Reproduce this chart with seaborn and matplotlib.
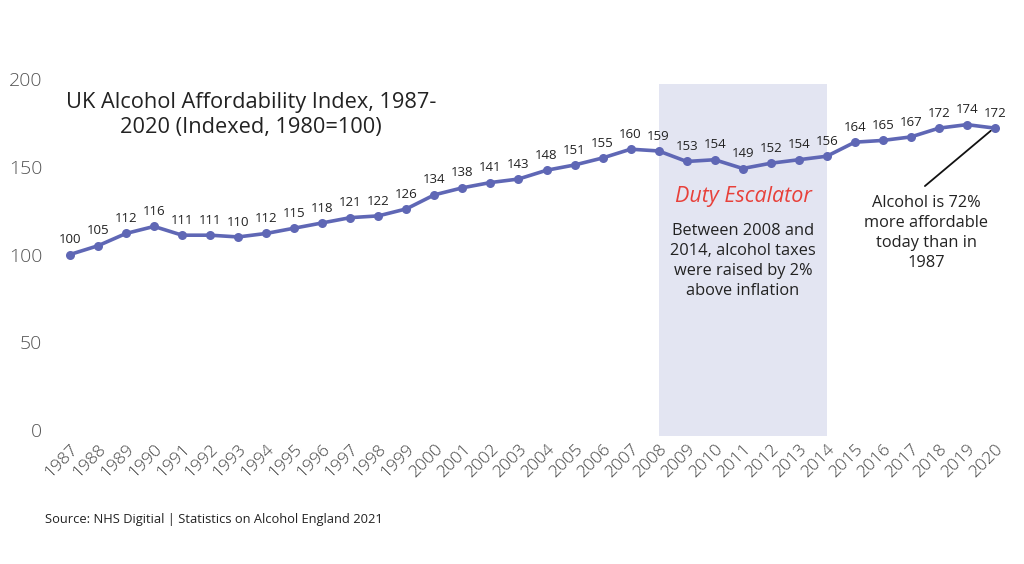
import matplotlib.pyplot as plt
import numpy as np
import pandas as pd
import seaborn as sns
from matplotlib.patches import Rectangle

years = list(range(1987, 2021))
index_values = [100, 105, 112, 116, 111, 111, 110, 112, 115, 118, 121, 122, 126,
                134, 138, 141, 143, 148, 151, 155, 160, 159, 153, 154, 149, 152,
                154, 156, 164, 165, 167, 172, 174, 172]
y_ticks = [0, 50, 100, 150, 200]

df = pd.DataFrame({'Year': years, 'Index': index_values})

sns.set_theme(style='white')
plt.rcParams['font.family'] = ['Open Sans', 'DejaVu Sans']

line_color = '#5f67b5'

fig = plt.figure(figsize=(10.24, 5.64), dpi=100)
ax = fig.add_axes([56 / 1024, 134 / 564, 953 / 1024, 351 / 564])

# duty escalator period
ax.add_patch(Rectangle((2008, -3.4), 6, 200.4, facecolor='#e3e5f2',
                       edgecolor='none', clip_on=False, zorder=0))

sns.lineplot(data=df, x='Year', y='Index', ax=ax, color=line_color, linewidth=2.6,
             marker='o', markersize=6.5, markeredgewidth=0, zorder=3)
for c in ax.collections + ax.lines:
    c.set_clip_on(False)

for yr, v in zip(years, index_values):
    ax.annotate(str(v), (yr, v), xytext=(0, 6), textcoords='offset points',
                ha='center', va='bottom', fontsize=9.5, color='#222222')

ax.set_xlim(1986.5, 2020.5)
ax.set_ylim(0, 200)
ax.set_xticks(years)
ax.set_xticklabels([str(y) for y in years], rotation=45, ha='right',
                   rotation_mode='anchor', fontsize=12.5, color='#444444',
                   fontweight='light')
ax.set_yticks(y_ticks)
ax.set_yticklabels([str(t) for t in y_ticks], fontsize=14, color='#555555',
                   fontweight='light')
ax.tick_params(axis='y', pad=10, length=0)
ax.tick_params(axis='x', pad=8, length=0)
ax.set_xlabel('')
ax.set_ylabel('')
sns.despine(ax=ax, left=True, bottom=True)
ax.grid(False)

fig.text(251 / 1024, 1 - 115 / 564, 'UK Alcohol Affordability Index, 1987-\n2020 (Indexed, 1980=100)',
         ha='center', va='center', fontsize=15.7, color='#222222', linespacing=1.3)

fig.text(743 / 1024, 1 - 197 / 564, 'Duty Escalator', ha='center', va='center',
         fontsize=15.5, color='#e8403a', style='italic')
fig.text(743 / 1024, 1 - 261 / 564,
         'Between 2008 and\n2014, alcohol taxes\nwere raised by 2%\nabove inflation',
         ha='center', va='center', fontsize=11.8, color='#222222', linespacing=1.35)

fig.text(926 / 1024, 1 - 233 / 564,
         'Alcohol is 72%\nmore affordable\ntoday than in\n1987',
         ha='center', va='center', fontsize=11.8, color='#222222', linespacing=1.35)
ax.annotate('', xy=(2019.85, 170.5), xytext=(2017.5, 139),
            arrowprops=dict(arrowstyle='-', color='#111111', lw=1.3,
                            shrinkA=0, shrinkB=0))

fig.text(45 / 1024, 1 - 520 / 564, 'Source: NHS Digitial | Statistics on Alcohol England 2021',
         ha='left', va='center', fontsize=9.3, color='#222222')

fig.savefig('out.png', dpi=100)
